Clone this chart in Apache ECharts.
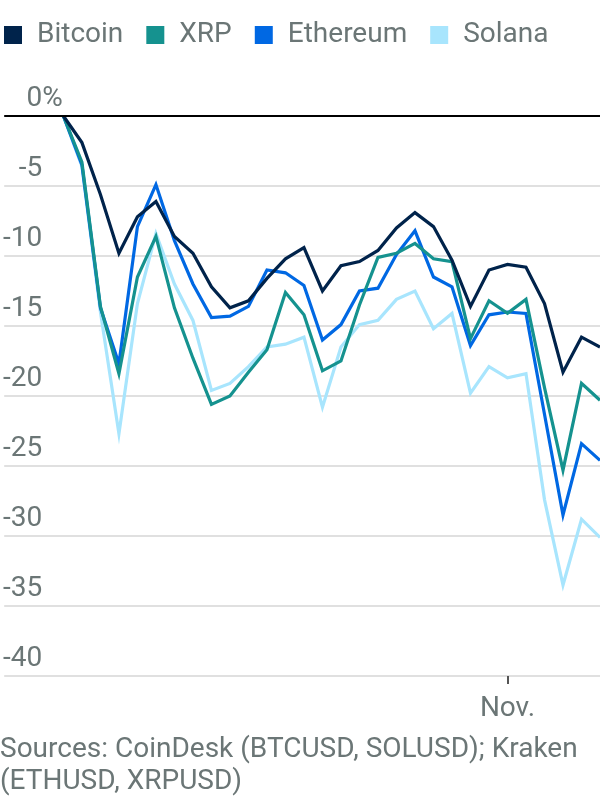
<!DOCTYPE html>
<html>
<head>
<meta charset="utf-8">
<script src="https://cdn.jsdelivr.net/npm/echarts@6.0.0/dist/echarts.min.js"></script>
<style>
  html, body { margin: 0; padding: 0; background: #fff; }
  #chart { width: 600px; height: 800px; }
</style>
</head>
<body>
<div id="chart"></div>
<script>
const dates = [
  '2025-10-08', '2025-10-09', '2025-10-10', '2025-10-11', '2025-10-12', '2025-10-13',
  '2025-10-14', '2025-10-15', '2025-10-16', '2025-10-17', '2025-10-18', '2025-10-19',
  '2025-10-20', '2025-10-21', '2025-10-22', '2025-10-23', '2025-10-24', '2025-10-25',
  '2025-10-26', '2025-10-27', '2025-10-28', '2025-10-29', '2025-10-30', '2025-10-31',
  '2025-11-01', '2025-11-02', '2025-11-03', '2025-11-04', '2025-11-05', '2025-11-06'
];

// % change from start
const bitcoin = [0, -1.9, -5.6, -9.8, -7.2, -6.1, -8.6, -9.8, -12.2, -13.7, -13.2, -11.6,
  -10.2, -9.4, -12.5, -10.7, -10.4, -9.6, -8.0, -6.9, -7.9, -10.3, -13.6, -11.0,
  -10.6, -10.8, -13.4, -18.3, -15.8, -16.5];
const xrp = [0, -3.3, -13.6, -18.4, -11.5, -8.6, -13.7, -17.3, -20.6, -20.0, -18.3, -16.7,
  -12.6, -14.2, -18.2, -17.5, -13.5, -10.1, -9.8, -9.1, -10.2, -10.4, -15.9, -13.2,
  -14.1, -13.1, -19.4, -25.3, -19.1, -20.3];
const ethereum = [0, -3.5, -13.7, -17.7, -7.9, -4.9, -8.9, -12.0, -14.4, -14.3, -13.6, -11.0,
  -11.2, -12.1, -16.0, -14.9, -12.5, -12.3, -9.9, -8.2, -11.5, -12.2, -16.4, -14.2,
  -14.0, -14.1, -21.3, -28.5, -23.4, -24.6];
const solana = [0, -3.6, -14.0, -22.7, -13.4, -8.4, -12.0, -14.6, -19.6, -19.1, -17.9, -16.5,
  -16.3, -15.8, -20.8, -16.5, -14.9, -14.6, -13.1, -12.5, -15.2, -14.1, -19.8, -17.9,
  -18.7, -18.4, -27.4, -33.5, -28.8, -30.1];

const monthTicks = ['2025-11-01'];
const monthLabels = ['Nov.'];

const DAY = 86400000;
function toTime(s) {
  const p = s.split('-').map(Number);
  return Date.UTC(p[0], p[1] - 1, p[2]);
}
const t0 = toTime(dates[0]);
// x as days since the first date
const days = dates.map(d => (toTime(d) - t0) / DAY);
const tickDays = monthTicks.map(d => (toTime(d) - t0) / DAY);

const labelColor = '#6b7676';
const font = 'Roboto, "Liberation Sans", sans-serif';
const fs = 28;

function makeSeries(name, values, color) {
  return {
    name: name,
    type: 'line',
    data: values.map((v, i) => [days[i], v]),
    symbol: 'none',
    lineStyle: { color: color, width: 3.2, join: 'miter' },
    itemStyle: { color: color },
    animation: false
  };
}

const chart = echarts.init(document.getElementById('chart'));

const series = [
  makeSeries('Solana', solana, '#a8e5fd'),
  makeSeries('Ethereum', ethereum, '#0068e3'),
  makeSeries('XRP', xrp, '#15928f'),
  makeSeries('Bitcoin', bitcoin, '#00234b')
];
// black zero line
series[3].markLine = {
  silent: true,
  symbol: 'none',
  label: { show: false },
  lineStyle: { color: '#000', width: 2, type: 'solid' },
  data: [{ yAxis: 0 }]
};

const yLabelBase = {
  inside: true,
  verticalAlign: 'bottom',
  padding: [0, 0, 3, 0],
  color: labelColor,
  fontSize: fs,
  fontFamily: font
};

chart.setOption({
  animation: false,
  textStyle: { fontFamily: font },
  legend: {
    data: ['Bitcoin', 'XRP', 'Ethereum', 'Solana'],
    left: 4,
    top: 21,
    padding: 0,
    icon: 'rect',
    itemWidth: 18,
    itemHeight: 18,
    itemGap: 23,
    textStyle: { color: labelColor, fontSize: fs, fontFamily: font, padding: [0, 0, 0, 10] }
  },
  title: {
    text: 'Sources: CoinDesk (BTCUSD, SOLUSD); Kraken\n(ETHUSD, XRPUSD)',
    left: 0,
    top: 734,
    padding: 0,
    textStyle: { color: labelColor, fontSize: fs, fontWeight: 'normal', fontFamily: font, lineHeight: 32 }
  },
  grid: { left: 0, right: 0, top: 116, bottom: 124, containLabel: false },
  xAxis: {
    type: 'value',
    min: -3.2,
    max: days[days.length - 1],
    axisLine: { show: false, onZero: false },
    splitLine: { show: false },
    axisTick: {
      show: true,
      customValues: tickDays,
      length: 8,
      lineStyle: { color: '#555', width: 2 }
    },
    axisLabel: {
      customValues: tickDays,
      formatter: function (val) {
        const i = tickDays.indexOf(val);
        return i >= 0 ? monthLabels[i] : '';
      },
      color: labelColor,
      fontSize: fs,
      fontFamily: font,
      margin: 19
    }
  },
  yAxis: [{
    type: 'value',
    min: -40,
    max: 0,
    interval: 5,
    axisLine: { show: false },
    axisTick: { show: false },
    splitLine: { lineStyle: { color: '#e0e0e0', width: 2 } },
    axisLabel: Object.assign({}, yLabelBase, { align: 'right', margin: 38 })
  }, {
    // only carries the "%" hanging after the 0 label
    type: 'value',
    position: 'left',
    min: -40,
    max: 0,
    interval: 40,
    axisLine: { show: false },
    axisTick: { show: false },
    splitLine: { show: false },
    axisLabel: Object.assign({}, yLabelBase, {
      align: 'left',
      margin: 38,
      formatter: v => (v === 0 ? '%' : '')
    })
  }],
  series: series
});
</script>
</body>
</html>
